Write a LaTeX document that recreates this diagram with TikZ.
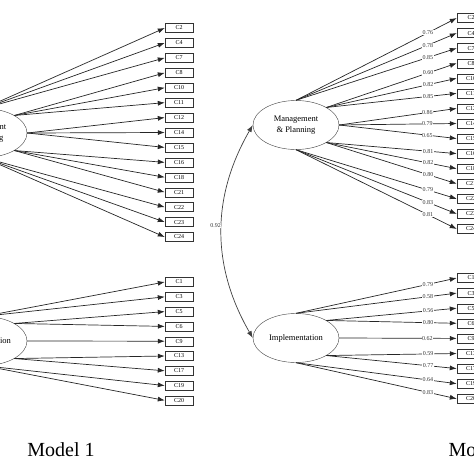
\documentclass[tikz,border=0pt]{standalone}
\usepackage{fontspec}
\setmainfont{Liberation Serif}
\usetikzlibrary{positioning,shapes.geometric,arrows.meta}

\begin{document}
\begin{tikzpicture}[
x=1pt,
y=-1pt,
factor/.style={
draw=black!75,
ellipse,
align=center,
inner sep=0pt,
minimum width=86pt,
minimum height=49pt,
font=\fontsize{8.5}{10.5}\selectfont
},
item/.style={
draw=black!80,
inner sep=0pt,
minimum width=28pt,
minimum height=9pt,
font=\fontsize{6}{7}\selectfont
},
load/.style={
fill=white,
inner sep=0.6pt,
text=black!80,
font=\fontsize{6}{7}\selectfont
},
arrow/.style={
-{Latex[length=7pt,width=5pt]},
draw=black!85,
line width=0.7pt
},
cov/.style={
{Latex[length=7pt,width=5pt]}-{Latex[length=7pt,width=5pt]},
draw=black!75,
line width=0.7pt
},
title/.style={
font=\fontsize{20}{24}\selectfont
}
]

\useasboundingbox (0,0) rectangle (474,474);
\clip (0,0) rectangle (474,474);


% Model 1

\node (mp1) [factor] at (-16,133)
{Management\\
\& Planning};

\node (imp1) [factor] at (-16,341)
{Implementation};

\foreach \c/\a [count=\i from 0] in
{2/90,4/90,7/90,8/30,10/30,11/30,12/0,14/0,15/0,16/-30,18/-30,21/-30,22/-90,23/-90,24/-90}
{
\node (mpa\c) [item] at (179,{28+14.93*\i}) {C\c};
\draw[arrow] (mp1.\a) -- (mpa\c.west);
}

\foreach \c/\a [count=\i from 0] in
{1/90,3/90,5/30,6/30,9/0,13/-30,17/-30,19/-90,20/-90}
{
\node (impa\c) [item] at (179,{282+14.8*\i}) {C\c};
\draw[arrow] (imp1.\a) -- (impa\c.west);
}

\node (t1) [title] at (61,450) {Model 1};


% Model 2

\node (mp2) [factor] at (296,125)
{Management\\
\& Planning};

\node (imp2) [factor] at (296,338)
{Implementation};

\foreach \c/\a/\w [count=\i from 0] in
{2/90/0.76,4/90/0.78,7/90/0.85,8/30/0.60,10/30/0.82,11/30/0.85,12/0/0.86,14/0/0.79,15/0/0.65,16/-30/0.81,18/-30/0.82,21/-30/0.80,22/-90/0.79,23/-90/0.83,24/-90/0.81}
{
\pgfmathsetmacro\p{abs(\a)==90 ? 0.82 : (\a==0 ? 0.75 : 0.78)}
\node (mpb\c) [item] at (471,{18+15.07*\i}) {C\c};
\draw[arrow] (mp2.\a) -- node[load, pos=\p] {\w} (mpb\c.west);
}

\foreach \c/\a/\w [count=\i from 0] in
{1/90/0.79,3/90/0.58,5/30/0.56,6/30/0.80,9/0/0.62,13/-30/0.59,17/-30/0.77,19/-90/0.64,20/-90/0.83}
{
\pgfmathsetmacro\p{abs(\a)==90 ? 0.82 : (\a==0 ? 0.75 : 0.78)}
\node (impb\c) [item] at (471,{278+15.1*\i}) {C\c};
\draw[arrow] (imp2.\a) -- node[load, pos=\p] {\w} (impb\c.west);
}

\draw[cov] (mp2.west) to[bend right=30]
node[load, left, pos=0.47] {0.92} (imp2.west);

\node (t2) [title, anchor=west] at (445,450) {Model 2};

\end{tikzpicture}
\end{document}
